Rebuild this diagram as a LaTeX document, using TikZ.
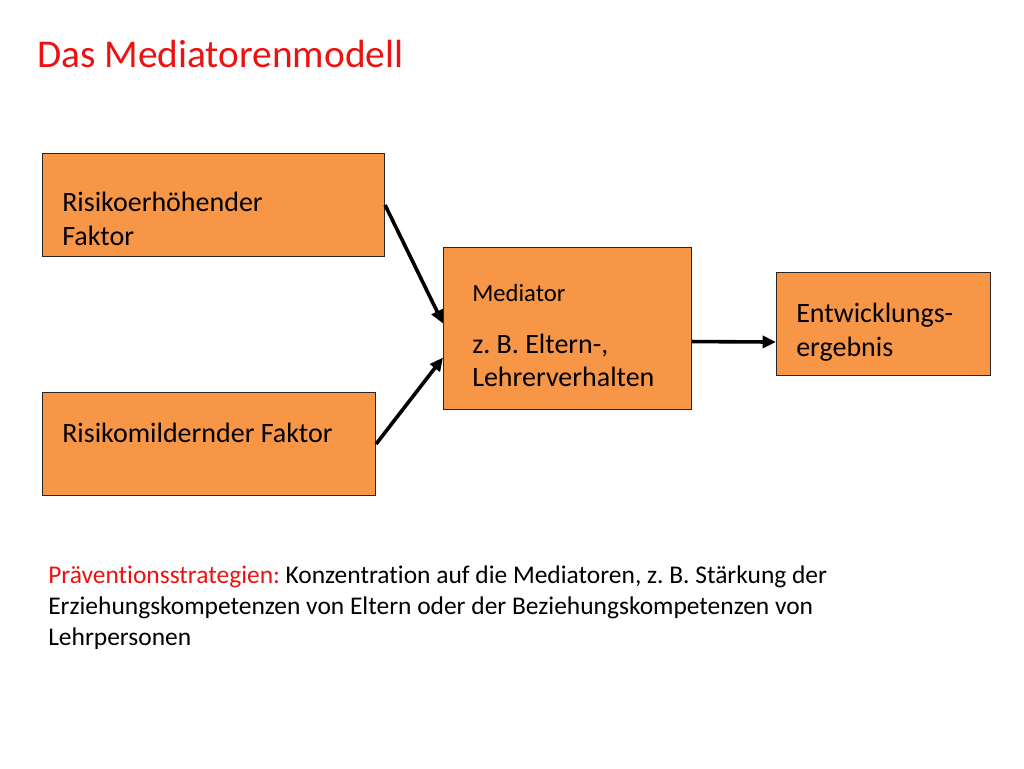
\documentclass[tikz,border=0pt]{standalone}
\usepackage{fontspec}
\setmainfont{Carlito}[Ligatures=NoCommon]
\usetikzlibrary{arrows.meta}
\frenchspacing
\definecolor{boxorange}{HTML}{F79646}
\definecolor{titlered}{HTML}{EE1111}
\tikzset{
  factorbox/.style={draw=black!85, line width=0.8pt, fill=boxorange, inner sep=0pt, anchor=north west},
  boxtext/.style={anchor=base west, inner sep=0pt, font=\fontsize{21}{25}\selectfont},
  flow/.style={line width=2.7pt, -{Triangle[length=10pt,width=9pt]}}
}
\begin{document}
\begin{tikzpicture}[x=0.75pt, y=-0.75pt, line cap=butt, line join=miter]
  \useasboundingbox (0,0) rectangle (1024,768);
  % title
  \node[anchor=base west, inner sep=0pt, text=titlered, font=\fontsize{29.5}{34}\selectfont] (title) at (37,67) {Das Mediatorenmodell};
  % boxes
  \node[factorbox, minimum width=256.5pt, minimum height=77.25pt] (erh) at (42,153) {};
  \node[factorbox, minimum width=249.75pt, minimum height=77.25pt] (mild) at (42,392) {};
  \node[factorbox, minimum width=186pt, minimum height=121.5pt] (med) at (443,247) {};
  \node[factorbox, minimum width=160.5pt, minimum height=77.25pt] (ent) at (776,272) {};
  % box texts
  \node[boxtext] (erhA) at (62,211) {Risikoerhöhender};
  \node[boxtext] (erhB) at (62,245) {Faktor};
  \node[boxtext] (mildA) at (62,442) {Risikomildernder Faktor};
  \node[boxtext, font=\fontsize{18.5}{22}\selectfont] (medA) at (472,301) {Mediator};
  \node[boxtext] (medB) at (472,353) {z. B. Eltern-,};
  \node[boxtext] (medC) at (472,386) {Lehrerverhalten};
  \node[boxtext] (entA) at (796,322) {Entwicklungs-};
  \node[boxtext] (entB) at (796,356) {ergebnis};
  % connectors
  \draw[flow] (erh.east) -- ([yshift=3.75pt]med.west);
  \draw[flow] (mild.east) -- ([yshift=-21.75pt]med.west);
  \draw[flow] ([yshift=-9.75pt]med.east) -- ([yshift=-13.5pt]ent.west);
  % prevention note
  \node[anchor=base west, inner sep=0pt, align=left, font=\fontsize{19.1}{23.25}\selectfont] (note) at (48,645)
    {\textcolor{titlered}{Präventionsstrategien:} Konzentration auf die Mediatoren, z. B. Stärkung der\\
     Erziehungskompetenzen von Eltern oder der Beziehungskompetenzen von\\
     Lehrpersonen};
\end{tikzpicture}
\end{document}
